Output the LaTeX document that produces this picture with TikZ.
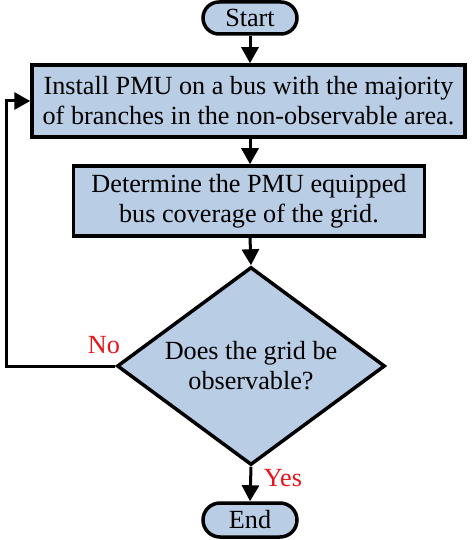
\documentclass[tikz,border=0pt]{standalone}
\usepackage{fontspec}
\setmainfont{Liberation Serif}
\usetikzlibrary{shapes.misc,shapes.geometric,arrows.meta}
\definecolor{boxblue}{HTML}{B9CDE5}
\definecolor{lblred}{HTML}{E8141B}
\begin{document}
\begin{tikzpicture}[x=1pt,y=-1pt,
  every node/.style={font=\fontsize{26.2}{30}\selectfont},
  term/.style={rounded rectangle, draw, line width=3.5pt, fill=boxblue, minimum width=94pt, minimum height=32pt, inner sep=0pt},
  proc/.style={rectangle, draw, line width=3.5pt, fill=boxblue, align=center, inner sep=0pt},
  dec/.style={diamond, draw, line width=3.5pt, fill=boxblue, align=center, inner sep=0pt, aspect=1.36, minimum width=268pt, minimum height=198pt},
  arr/.style={line width=3pt, -{Triangle[length=16pt,width=17pt]}},
  lab/.style={text=lblred}]
\useasboundingbox (0,0) rectangle (474,540);
\node[term] (start) at (250,18) {Start};
\node[proc, minimum width=433pt, minimum height=72pt] (b1) at (248.5,101) {Install PMU on a bus with the majority\\of branches in the non-observable area.};
\node[proc, minimum width=351pt, minimum height=70pt] (b2) at (249,201) {Determine the PMU equipped\\bus coverage of the grid.};
\node[dec] (d) at (251,366) {Does the grid be\\observable?};
\node[term, minimum height=34pt] (end) at (250,520) {End};
\coordinate (c1) at (6,366);
\coordinate (c2) at (6,101);
\draw[arr] (start.south) -- (start.south |- b1.north);
\draw[arr] (start.south |- b1.south) -- (start.south |- b2.north);
\draw[arr] (start.south |- b2.south) -- (d.north);
\draw[arr] (d.south) -- (end.north);
\draw[arr] (d.west) -- (c1) -- (c2) -- (b1.west);
\node[lab] (no) at (104,345) {No};
\node[lab] (yes) at (283,478) {Yes};
\end{tikzpicture}
\end{document}
